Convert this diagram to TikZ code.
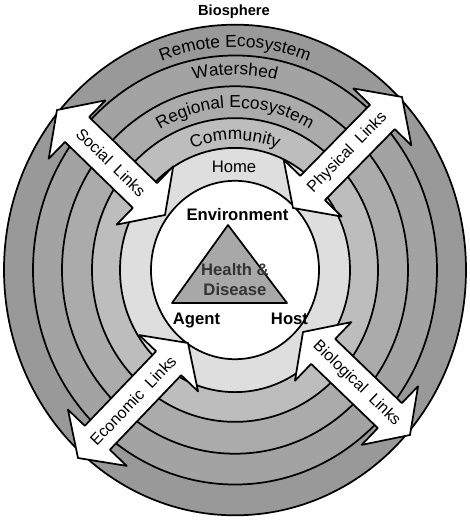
\documentclass[tikz,border=0pt]{standalone}
\usepackage{fontspec}
\setmainfont{Liberation Sans}
\usetikzlibrary{calc,decorations.text}

\definecolor{remotegray}{gray}{0.60}
\definecolor{watershedgray}{gray}{0.64}
\definecolor{regionalgray}{gray}{0.67}
\definecolor{communitygray}{gray}{0.74}
\definecolor{homegray}{gray}{0.87}
\definecolor{trianglegray}{gray}{0.66}

% arrow sizes (head length, head half width, shaft half width)
\newcommand{\hdlen}{21pt}
\newcommand{\hdwid}{30.5pt}
\newcommand{\shwid}{13pt}
\newcommand{\ringfont}{\fontsize{13}{15}\selectfont}

% one filled ring boundary, stretched a little in y
\newcommand{\ringat}[2]{\draw[ringline, fill=#2] (0,0) ellipse [x radius=#1, y radius=1.062*#1];}

% white double arrow from outer tip #1 to inner tip #2, label #3
\newcommand{\linkarrow}[3]{%
  \draw[linkarrow] (#1)
    -- ($(#1)!\hdlen!(#2)!\hdwid!90:(#2)$)
    -- ($(#1)!\hdlen!(#2)!\shwid!90:(#2)$)
    -- ($(#2)!\hdlen!(#1)!\shwid!-90:(#1)$)
    -- ($(#2)!\hdlen!(#1)!\hdwid!-90:(#1)$)
    -- (#2)
    -- ($(#2)!\hdlen!(#1)!\hdwid!90:(#1)$)
    -- ($(#2)!\hdlen!(#1)!\shwid!90:(#1)$)
    -- ($(#1)!\hdlen!(#2)!\shwid!-90:(#2)$)
    -- ($(#1)!\hdlen!(#2)!\hdwid!-90:(#2)$)
    -- cycle;
  \path (#1) -- (#2) node[midway, sloped, linktext] {#3};}

\begin{document}
\begin{tikzpicture}[x=0.75pt,y=0.75pt,line join=round,
  ringline/.style={draw=black, line width=1.3pt},
  linkarrow/.style={draw=black, fill=white, line width=1.3pt},
  linktext/.style={font=\fontsize{12}{14}\selectfont, inner sep=0pt},
  trilabel/.style={font=\bfseries\fontsize{12.5}{15}\selectfont, inner sep=0pt}]
\useasboundingbox (-235,-252) rectangle (235,270);
% rings, outside in
\ringat{231}{remotegray}
\ringat{202}{watershedgray}
\ringat{173}{regionalgray}
\ringat{143}{communitygray}
\ringat{115}{homegray}
\ringat{84}{white}
% ring names
\path[decorate, decoration={text along path, text align=center,
  text={|\ringfont|Remote Ecosystem}}]
  (160:209 and 223) arc[start angle=160, end angle=20, x radius=209, y radius=223];
\path[decorate, decoration={text along path, text align=center,
  text={|\ringfont|Watershed}}]
  (160:183 and 195) arc[start angle=160, end angle=20, x radius=183, y radius=195];
\path[decorate, decoration={text along path, text align=center,
  text={|\ringfont|Regional Ecosystem}}]
  (160:152 and 162) arc[start angle=160, end angle=20, x radius=152, y radius=162];
\path[decorate, decoration={text along path, text align=center,
  text={|\ringfont|Community}}]
  (160:122 and 130) arc[start angle=160, end angle=20, x radius=122, y radius=130];
\node[font=\fontsize{12.5}{14}\selectfont] (home) at (-1,103) {Home};
% the four links
\coordinate (social out) at (-178,160);
\coordinate (social in) at (-70,55);
\coordinate (physical out) at (167,173);
\coordinate (physical in) at (58,62);
\coordinate (economic out) at (-157,-188);
\coordinate (economic in) at (-47,-73);
\coordinate (biological out) at (175,-165);
\coordinate (biological in) at (68,-62);
\linkarrow{social out}{social in}{Social~~Links}
\linkarrow{physical out}{physical in}{Physical~~Links}
\linkarrow{economic out}{economic in}{Economic~~Links}
\linkarrow{biological out}{biological in}{Biological~~Links}
% epidemiological triangle
\coordinate (tri top) at (-7,45);
\coordinate (tri left) at (-63,-33);
\coordinate (tri right) at (52,-33);
\draw[ringline, fill=trianglegray] (tri top) -- (tri left) -- (tri right) -- cycle;
\node[trilabel] (env) at (2.5,55) {Environment};
\node[trilabel] (agent) at (-38.5,-51) {Agent};
\node[trilabel] (host) at (54.5,-49) {Host};
\node[trilabel, text=black!80, align=center] (hd) at (0,-10) {Health \&\\Disease};
\node[font=\bfseries\fontsize{11}{13}\selectfont] (bio) at (-1,258) {Biosphere};
\end{tikzpicture}
\end{document}
